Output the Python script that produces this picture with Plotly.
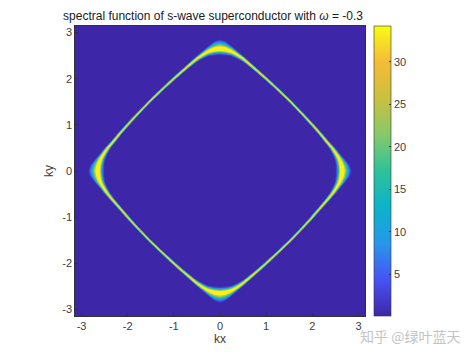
import numpy as np
import plotly.graph_objects as go
from plotly.colors import sample_colorscale

# values
title_text = "spectral function of s-wave superconductor with <i>ω</i> = -0.3"
cbar_ticks = [5, 10, 15, 20, 25, 30]
axis_ticks = [-3, -2, -1, 0, 1, 2, 3]
axis_labels = ["-3", "-2", "-1", "0", "1", "2", "3"]
z_min, z_max = 0.12, 34.2
parula = [[0.0, "#3E26A8"], [0.125, "#4753F5"], [0.25, "#2797EB"], [0.375, "#0BB3C8"],
          [0.5, "#2EC29A"], [0.625, "#86C96A"], [0.75, "#C9C03F"], [0.875, "#F5BB38"],
          [1.0, "#F9FB14"]]

# traced Fermi-surface ridge, one octant (the picture is symmetric)
ridge_kx = [0.0, 0.12, 0.25, 0.37, 0.5, 0.75, 1.0, 1.25, 1.5]
ridge_ky = [2.65, 2.635, 2.59, 2.52, 2.43, 2.22, 2.00, 1.77, 1.53]

# value contours of the band: ky distance from the ridge, outward and inward
levels = [2, 5, 9, 13, 17, 21, 25, 33.5]
outer = [
    [.20, .175, .12, .085, .068, .05, .045, .042, .04],
    [.175, .155, .105, .075, .06, .045, .041, .038, .037],
    [.15, .135, .092, .066, .052, .04, .037, .034, .033],
    [.13, .115, .08, .058, .045, .036, .033, .03, .029],
    [.11, .097, .068, .05, .04, .032, .03, .026, .025],
    [.09, .08, .058, .043, .034, .028, .025, .022, .021],
    [.075, .066, .048, .036, .03, .024, .02, .018, .017],
    [.052, .046, .032, .024, .016, .01, .008, .007, .007],
]
inner = [
    [.14, .13, .105, .085, .068, .05, .045, .042, .04],
    [.12, .112, .092, .075, .06, .045, .041, .038, .037],
    [.105, .098, .08, .066, .052, .04, .037, .034, .033],
    [.09, .085, .07, .058, .045, .036, .033, .03, .029],
    [.08, .075, .062, .05, .04, .032, .03, .026, .025],
    [.07, .066, .054, .043, .034, .028, .025, .022, .021],
    [.062, .058, .046, .036, .03, .024, .02, .018, .017],
    [.05, .045, .032, .024, .016, .01, .008, .007, .007],
]


def loop(off):
    kx = np.array(ridge_kx)
    ky = np.array(ridge_ky) + np.array(off)
    qx = np.r_[kx, ky[::-1]]
    qy = np.r_[ky, kx[::-1]]
    xs = np.r_[qx, qx[::-1][1:], -qx[1:], -qx[::-1][1:]]
    ys = np.r_[qy, -qy[::-1][1:], -qy[1:], qy[::-1][1:]]
    return xs, ys


fig = go.Figure()
fig.add_trace(go.Heatmap(
    x=[-np.pi, np.pi], y=[-np.pi, np.pi], z=[[z_min, z_min], [z_min, z_min]],
    zmin=z_min, zmax=z_max, colorscale=parula, hoverinfo="skip",
    colorbar=dict(x=1.031, xanchor="left", xpad=0, y=0.5, yanchor="middle", len=1, ypad=0,
                  thickness=17, tickvals=cbar_ticks, ticks="inside", ticklen=2, tickcolor="#333333",
                  outlinecolor="#333333", outlinewidth=0.6,
                  tickfont=dict(family="Liberation Sans", size=11, color="#404040")),
))
for value, o, i in zip(levels, outer, inner):
    ox, oy = loop(np.array(o))
    ix, iy = loop(-np.array(i))
    color = sample_colorscale(parula, (value - z_min) / (z_max - z_min))[0]
    fig.add_trace(go.Scatter(
        x=np.r_[ox, ox[0], ix[0], ix[::-1]], y=np.r_[oy, oy[0], iy[0], iy[::-1]],
        mode="lines", fill="toself", fillcolor=color,
        line=dict(width=0, shape="spline", smoothing=0.6),
        hoverinfo="skip", showlegend=False,
    ))

axis_common = dict(
    range=[-np.pi, np.pi], tickvals=axis_ticks, ticktext=axis_labels, ticks="inside", ticklen=3,
    tickcolor="#333333", showline=True, mirror=True, linecolor="#333333", linewidth=0.6,
    showgrid=False, zeroline=False,
    tickfont=dict(family="Liberation Sans", size=11, color="#404040"),
)
fig.update_layout(
    width=474, height=355, margin=dict(l=75, r=109, t=26, b=39),
    paper_bgcolor="white", plot_bgcolor="white", showlegend=False,
    title=dict(text=title_text, x=213 / 474, xanchor="center", y=1 - 16 / 355, yanchor="middle",
               font=dict(family="Liberation Sans", size=12, color="#1a1a1a")),
    xaxis=dict(axis_common, title=dict(text="kx", standoff=2,
               font=dict(family="Liberation Sans", size=12, color="#404040"))),
    yaxis=dict(axis_common, title=dict(text="ky", standoff=6,
               font=dict(family="Liberation Sans", size=12, color="#404040"))),
    annotations=[dict(text="知乎 @绿叶蓝天", xref="paper", yref="paper", x=(462 - 75) / 290, y=0,
                      showarrow=False, font=dict(family="Noto Sans CJK SC", size=14, color="#c4c4c4"),
                      xanchor="right", yanchor="middle", yshift=-20)]
)
fig.write_html("out.html", config={"displayModeBar": False},
               post_script="document.body.style.margin='0';")
